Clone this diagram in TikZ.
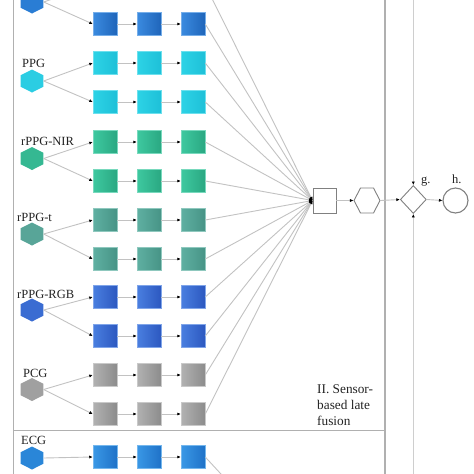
\documentclass[tikz,border=0pt]{standalone}
\usepackage{fontspec}
\setmainfont{Liberation Serif}
\usetikzlibrary{arrows.meta,shapes.geometric}
\definecolor{bAl}{HTML}{3B8BE0}\definecolor{bAr}{HTML}{1F65BA}\definecolor{bAh}{HTML}{2A7DD4}
\definecolor{cyl}{HTML}{2DD3E6}\definecolor{cyr}{HTML}{1EC0D8}\definecolor{cyh}{HTML}{2BCDE3}
\definecolor{gnl}{HTML}{3EC9A0}\definecolor{gnr}{HTML}{2AA882}\definecolor{gnh}{HTML}{35B892}
\definecolor{tel}{HTML}{5FB0A2}\definecolor{ter}{HTML}{479486}\definecolor{teh}{HTML}{58A598}
\definecolor{rgl}{HTML}{4A7FE0}\definecolor{rgr}{HTML}{2C58C0}\definecolor{rgh}{HTML}{3A6CD2}
\definecolor{pcl}{HTML}{B2B2B2}\definecolor{pcr}{HTML}{8C8C8C}\definecolor{pch}{HTML}{A0A0A0}
\definecolor{ecl}{HTML}{3A98E6}\definecolor{ecr}{HTML}{1F72C8}\definecolor{ech}{HTML}{2A86D8}
\definecolor{lgray}{HTML}{C2C2C2}
\definecolor{fgray}{HTML}{B0B0B0}
\definecolor{bgray}{HTML}{808080}
\definecolor{txt}{HTML}{222222}
\begin{document}
\begin{tikzpicture}[x=1pt,y=-1pt,
  sq/.style 2 args={rectangle, minimum width=24pt, minimum height=23pt, inner sep=0pt,
    left color=#1, right color=#2, draw=#1!70!white, line width=0.5pt},
  shex/.style={regular polygon, regular polygon sides=6, shape border rotate=30,
    minimum size=23pt, inner sep=0pt, fill=#1, draw=none, transform shape},
  conn/.style={draw=lgray, line width=0.9pt, -{Latex[length=3.5pt,width=3.2pt,color=black]}},
  plain/.style={draw=lgray, line width=0.9pt},
  lab/.style={font=\fontsize{12.5}{14}\selectfont, text=txt, inner sep=0pt, anchor=base west},
  fbox/.style={draw=bgray, line width=0.9pt, fill=white, inner sep=0pt}
]
\useasboundingbox (0,0) rectangle (474,474);
\clip (0,0) rectangle (474,474);

% frame lines
\coordinate (fTL) at (13,0);
\coordinate (fBL) at (13,474);
\coordinate (fTR) at (385,0);
\coordinate (fBR) at (385,474);
\coordinate (hL) at (13,430);
\coordinate (hR) at (385,430);
\draw[fgray, line width=0.9pt] (fTL) -- (fBL);
\draw[fgray, line width=1.3pt] (fTR) -- (fBR);
\draw[fgray, line width=0.9pt] (hL) -- (hR);

% rows of squares
\foreach \n/\yy/\ca/\cb in {m/-15/bAl/bAr, 0/24/bAl/bAr, 1/63/cyl/cyr, 2/102/cyl/cyr,
    3/142/gnl/gnr, 4/181/gnl/gnr, 5/220/tel/ter, 6/259/tel/ter, 7/297/rgl/rgr,
    8/336/rgl/rgr, 9/375/pcl/pcr, 10/414/pcl/pcr, e/457/ecl/ecr}{
  \node[sq={\ca}{\cb}] (r\n a) at (105,\yy) {};
  \node[sq={\ca}{\cb}] (r\n b) at (149,\yy) {};
  \node[sq={\ca}{\cb}] (r\n c) at (193,\yy) {};
  \draw[conn] (r\n a) -- (r\n b);
  \draw[conn] (r\n b) -- (r\n c);
}

% sensor hexagons
\begin{scope}[shift={(32,2)}, xscale=1.15]\node[shex=bAh] (sA) at (0,0) {};\end{scope}
\begin{scope}[shift={(32,81)}, xscale=1.15]\node[shex=cyh] (sP) at (0,0) {};\end{scope}
\begin{scope}[shift={(32,158.5)}, xscale=1.15]\node[shex=gnh] (sN) at (0,0) {};\end{scope}
\begin{scope}[shift={(32,234)}, xscale=1.15]\node[shex=teh] (sT) at (0,0) {};\end{scope}
\begin{scope}[shift={(32,310)}, xscale=1.15]\node[shex=rgh] (sR) at (0,0) {};\end{scope}
\begin{scope}[shift={(32,389.5)}, xscale=1.15]\node[shex=pch] (sC) at (0,0) {};\end{scope}
\begin{scope}[shift={(32,458)}, xscale=1.15]\node[shex=ech] (sE) at (0,0) {};\end{scope}

% labels
\node[lab] (lP) at (22,67) {PPG};
\node[lab] (lN) at (21,145) {rPPG-NIR};
\node[lab] (lT) at (17,221) {rPPG-t};
\node[lab] (lR) at (17,298) {rPPG-RGB};
\node[lab] (lC) at (23,377) {PCG};
\node[lab] (lE) at (21,444) {ECG};

% sensor to first column
\draw[conn] (sA.east) -- (rma.west);
\draw[conn] (sA.east) -- (r0a.west);
\draw[conn] (sP.east) -- (r1a.west);
\draw[conn] (sP.east) -- (r2a.west);
\draw[conn] (sN.east) -- (r3a.west);
\draw[conn] (sN.east) -- (r4a.west);
\draw[conn] (sT.east) -- (r5a.west);
\draw[conn] (sT.east) -- (r6a.west);
\draw[conn] (sR.east) -- (r7a.west);
\draw[conn] (sR.east) -- (r8a.west);
\draw[conn] (sC.east) -- (r9a.west);
\draw[conn] (sC.east) -- (r10a.west);
\draw[conn] (sE.east) -- (rea.west);

% fusion elements
\node[fbox, rectangle, minimum width=23pt, minimum height=25pt] (fus) at (324.5,200.5) {};
\begin{scope}[shift={(367,200.5)}, yscale=1.11]
  \node[fbox, regular polygon, regular polygon sides=6, minimum size=26pt, transform shape] (fh) at (0,0) {};
\end{scope}
\node[fbox, diamond, minimum width=26pt, minimum height=28pt] (dec) at (413.3,199.5) {};
\node[fbox, circle, minimum size=25pt, line width=1.1pt] (out) at (455.5,200.5) {};
\node[lab] (lg) at (421,183) {g.};
\node[lab] (lh) at (452,183) {h.};

% late-fusion connectors
\foreach \n in {m,0,1,2,3,4,5,6,7,8,9,10}{
  \draw[conn] (r\n c.east) -- (fus.west);
}
\coordinate (ecgout) at (245,500);
\draw[plain] (rec.east) -- (ecgout);

\draw[conn] (fus.east) -- (fh.west);
\draw[conn] (fh.east) -- (dec.west);
\draw[conn] (dec.east) -- (out.west);

\coordinate (vT) at (413.3,0);
\coordinate (vB) at (413.3,474);
\draw[conn, draw=lgray!80] (vT) -- (dec.north);
\draw[conn, draw=lgray!80] (vB) -- (dec.south);

\node[font=\fontsize{13.3}{16}\selectfont, text=txt, inner sep=0pt, anchor=north west, align=left] (cap) at (317,384) {II. Sensor-\\based late\\fusion};
\end{tikzpicture}
\end{document}
